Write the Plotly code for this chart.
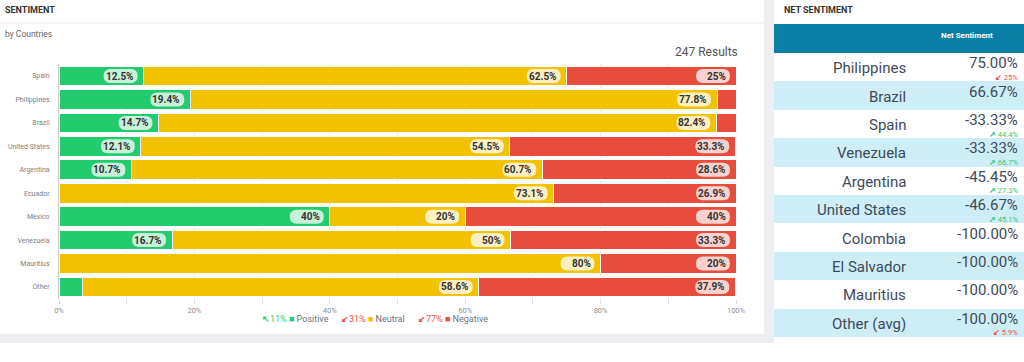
import plotly.graph_objects as go

W, H = 1024, 362

# ---------------- data ----------------
countries = ["Spain", "Philippines", "Brazil", "United States", "Argentina",
             "Ecuador", "Mexico", "Venezuela", "Mauritius", "Other"]
positive = [12.5, 19.4, 14.7, 12.1, 10.7, 0, 40, 16.7, 0, 3.4]
neutral = [62.5, 77.8, 82.4, 54.5, 60.7, 73.1, 20, 50, 80, 58.6]
negative = [25, 2.8, 2.9, 33.3, 28.6, 26.9, 40, 33.3, 20, 37.9]

x_tick_vals = [0, 10, 20, 30, 40, 50, 60, 70, 80, 90, 100]
x_tick_text = ["0%", "", "20%", "", "40%", "", "60%", "", "80%", "", "100%"]

legend_names = ["Positive", "Neutral", "Negative"]
legend_deltas = ["11%", "31%", "77%"]
legend_dirs = ["up", "down", "down"]

results_text = "247 Results"

net_countries = ["Philippines", "Brazil", "Spain", "Venezuela", "Argentina",
                 "United States", "Colombia", "El Salvador", "Mauritius", "Other (avg)"]
net_values = [75.00, 66.67, -33.33, -33.33, -45.45, -46.67, -100.00, -100.00, -100.00, -100.00]
net_deltas = [25, None, 44.4, 66.7, 27.3, 45.1, None, None, None, 5.9]
net_delta_dirs = ["down", None, "up", "up", "up", "up", None, None, None, "down"]

# ---------------- styles ----------------
FONT = "Roboto"
GREEN, YELLOW, RED = "#22cc6e", "#f2c200", "#e84c3d"
PILL = {GREEN: "#c8f1d9", YELLOW: "#fcefc2", RED: "#f8d2cd"}
UP_C, DOWN_C = "#2ecc71", "#f24b4b"
TEAL = "#0a7fa6"
ROW_ALT = "#cdeef6"
GREY_BG = "#eceef1"


def px(x):
    return x / W


def py(y):
    return 1 - y / H


fig = go.Figure()

series = [(legend_names[0], positive, GREEN),
          (legend_names[1], neutral, YELLOW),
          (legend_names[2], negative, RED)]

for name, vals, col in series:
    fig.add_trace(go.Bar(
        y=countries, x=vals, name=name, orientation="h",
        marker=dict(color=col, line=dict(color="white", width=1)),
        xaxis="x", yaxis="y", showlegend=False, hoverinfo="skip",
    ))

annotations = []
shapes = []


def fmt(v):
    s = f"{v:.1f}"
    if s.endswith(".0"):
        s = s[:-2]
    return s + "%"


# rounded pill outline, in pixels relative to the end of a segment
PILL_PATH = ("M -33,-7 L -13,-7 Q -6,-7 -6,0 Q -6,7 -13,7 "
             "L -33,7 Q -40,7 -40,0 Q -40,-7 -33,-7 Z")

cum = [0.0] * len(countries)
for name, vals, col in series:
    for i, v in enumerate(vals):
        cum[i] += v
        if v >= 5:
            shapes.append(dict(
                type="path", xref="x", yref="y", xsizemode="pixel", ysizemode="pixel",
                xanchor=cum[i], yanchor=i, path=PILL_PATH,
                fillcolor=PILL[col], line=dict(width=0), layer="above",
            ))
            annotations.append(dict(
                x=cum[i], y=countries[i], xref="x", yref="y",
                text=f"<b>{fmt(v)}</b>", showarrow=False,
                xanchor="right", yanchor="middle", xshift=-8,
                font=dict(family=FONT, size=10, color="#333333"),
            ))

# legend
leg_x = [260, 339, 416]
for i, (name, col) in enumerate(zip(legend_names, [GREEN, YELLOW, RED])):
    arrow = "↖" if legend_dirs[i] == "up" else "↙"
    acol = UP_C if legend_dirs[i] == "up" else DOWN_C
    annotations.append(dict(
        x=px(leg_x[i]), y=py(319), xref="paper", yref="paper",
        xanchor="left", yanchor="middle", showarrow=False,
        text=(f"<span style='color:{acol}'><b>{arrow}</b>{legend_deltas[i]}</span> "
              f"<span style='color:{col}'>■</span> {name}"),
        font=dict(family=FONT, size=9, color="#6b717a"),
    ))

# titles
annotations += [
    dict(x=px(3), y=py(10), xref="paper", yref="paper", xanchor="left", yanchor="middle",
         showarrow=False, text="<b>SENTIMENT</b>", font=dict(family=FONT, size=9, color="#333")),
    dict(x=px(3), y=py(34), xref="paper", yref="paper", xanchor="left", yanchor="middle",
         showarrow=False, text="by Countries", font=dict(family=FONT, size=8.5, color="#666")),
    dict(x=px(740), y=py(52), xref="paper", yref="paper", xanchor="right", yanchor="middle",
         showarrow=False, text=results_text, font=dict(family=FONT, size=12, color="#555")),
    dict(x=px(782), y=py(10), xref="paper", yref="paper", xanchor="left", yanchor="middle",
         showarrow=False, text="<b>NET SENTIMENT</b>", font=dict(family=FONT, size=9, color="#333")),
    dict(x=px(967), y=py(35), xref="paper", yref="paper", xanchor="center", yanchor="middle",
         showarrow=False, text="<b>Net Sentiment</b>", font=dict(family=FONT, size=8, color="white")),
]

# table rows as full-width bars on a second axis pair
row_colors = ["white" if i % 2 == 0 else ROW_ALT for i in range(len(net_countries))]
fig.add_trace(go.Bar(
    y=net_countries, x=[1] * len(net_countries), orientation="h", width=1,
    marker=dict(color=row_colors, line=dict(width=0)),
    xaxis="x2", yaxis="y2", showlegend=False, hoverinfo="skip",
))

for i, c in enumerate(net_countries):
    annotations.append(dict(
        x=0.536, y=c, xref="x2", yref="y2", xanchor="right", yanchor="middle",
        yshift=-1, showarrow=False, text=c,
        font=dict(family=FONT, size=15, color="#3d4a5c"),
    ))
    annotations.append(dict(
        x=0.985, y=c, xref="x2", yref="y2", xanchor="right", yanchor="middle",
        yshift=4, showarrow=False, text=f"{net_values[i]:.2f}%",
        font=dict(family=FONT, size=15, color="#3d4a5c"),
    ))
    if net_deltas[i] is not None:
        up = net_delta_dirs[i] == "up"
        annotations.append(dict(
            x=0.985, y=c, xref="x2", yref="y2", xanchor="right", yanchor="middle",
            yshift=-10, showarrow=False,
            text=f"<b>{'↗' if up else '↙'}</b> {net_deltas[i]}%",
            font=dict(family=FONT, size=7.5, color=UP_C if up else DOWN_C),
        ))

shapes += [
    # grey separators
    dict(type="rect", xref="paper", yref="paper", x0=px(764), x1=px(774), y0=py(343), y1=1,
         fillcolor=GREY_BG, line=dict(width=0), layer="below"),
    dict(type="rect", xref="paper", yref="paper", x0=0, x1=px(774), y0=py(343), y1=py(334),
         fillcolor=GREY_BG, line=dict(width=0), layer="below"),
    dict(type="line", xref="paper", yref="paper", x0=0, x1=px(764), y0=py(23), y1=py(23),
         line=dict(color="#ececec", width=1)),
    # table header
    dict(type="rect", xref="paper", yref="paper", x0=px(774), x1=1, y0=py(53), y1=py(24),
         fillcolor=TEAL, line=dict(width=0)),
]

fig.update_layout(
    width=W, height=H, autosize=False,
    margin=dict(l=0, r=0, t=0, b=0, pad=0),
    paper_bgcolor="white", plot_bgcolor="white",
    barmode="stack", bargap=0.16,
    font=dict(family=FONT),
    xaxis=dict(domain=[px(59), px(736)], range=[0, 100], tickvals=x_tick_vals,
               ticktext=x_tick_text, showgrid=True, gridcolor="#ececec", gridwidth=1,
               ticks="outside", ticklen=4, tickcolor="#dddddd", zeroline=False,
               tickfont=dict(size=7.5, color="#8a8f96"), fixedrange=True,
               automargin=False, anchor="y"),
    yaxis=dict(domain=[py(298.7), py(64.3)], categoryorder="array", categoryarray=countries,
               autorange="reversed", showline=True, linecolor="#cccccc", linewidth=1,
               ticklabelstandoff=7, tickfont=dict(size=7, color="#7a7f87"),
               showgrid=False, fixedrange=True, automargin=False, anchor="x"),
    xaxis2=dict(domain=[px(774), 1], range=[0, 1], visible=False, fixedrange=True,
                anchor="y2", automargin=False),
    yaxis2=dict(domain=[py(337), py(53)], categoryorder="array", categoryarray=net_countries,
                range=[len(net_countries) - 0.5, -0.5], visible=False, fixedrange=True,
                anchor="x2", automargin=False),
    annotations=annotations,
    shapes=shapes,
)

fig.write_html("out.html", config={"displayModeBar": False},
               post_script="document.body.style.margin='0px';")
